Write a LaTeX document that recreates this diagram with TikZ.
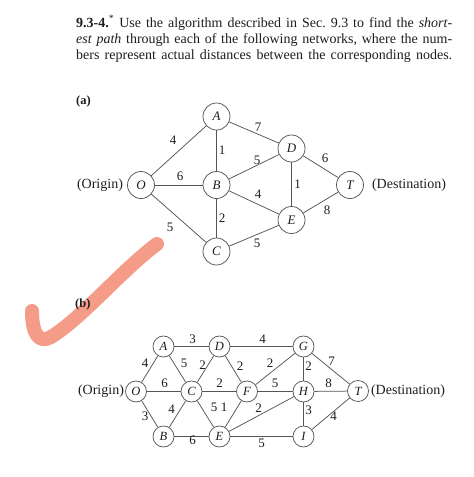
\documentclass[tikz,border=0pt]{standalone}
\usepackage{fontspec}
\setmainfont{Liberation Serif}
\usetikzlibrary{positioning}
\definecolor{ink}{HTML}{1E1E1E}
\definecolor{edgegray}{HTML}{555555}
\definecolor{marker}{HTML}{F49C87}
\frenchspacing

\begin{document}
\begin{tikzpicture}[x=1pt,y=-1pt,font=\fontsize{13}{15}\selectfont,text=ink,
  vtx/.style={circle,draw=edgegray,line width=0.75pt,inner sep=0pt,
    minimum size=27pt,font=\fontsize{13}{15}\selectfont\itshape},
  vtxs/.style={vtx,minimum size=21pt,font=\fontsize{12.5}{15}\selectfont\itshape},
  wt/.style={inner sep=0pt},
  link/.style={draw=edgegray,line width=0.75pt},
  side/.style={inner sep=0pt,font=\fontsize{14}{16}\selectfont},
  stmt/.style={anchor=base west,inner sep=0pt,font=\fontsize{14}{16}\selectfont}]
  \useasboundingbox[fill=white] (0,0) rectangle (474,477);

  % Hand-drawn tick, under the text.
  \draw[marker,line width=14pt,line cap=round,line join=round]
    (157,244) .. controls (122,270) and (82,318) .. (51,337)
    .. controls (39,344) and (32,334) .. (32,311);

  % Problem statement.
  \node[stmt] (line1) at (76,27)
    {\makebox[376pt][s]{\textbf{9.3-4.}\textsuperscript{*} Use the algorithm described in Sec. 9.3 to find the \textit{short-}}};
  \node[stmt] (line2) at (76,43)
    {\makebox[376pt][s]{\textit{est path} through each of the following networks, where the num-}};
  \node[stmt] (line3) at (76,59)
    {\makebox[376pt][s]{bers represent actual distances between the corresponding nodes.}};

  % Network (a).
  \node[anchor=base west,inner sep=0pt,font=\fontsize{12.5}{15}\selectfont\bfseries] (parta) at (76,104) {(a)};
  \node[vtx] (aO) at (141,185) {O};
  \node[vtx] (aA) at (216.5,116.5) {A};
  \node[vtx] (aB) at (216.5,185) {B};
  \node[vtx] (aC) at (216.5,251.5) {C};
  \node[vtx] (aD) at (291.5,148.5) {D};
  \node[vtx] (aE) at (291.5,220) {E};
  \node[vtx] (aT) at (350,185) {T};
  \node[side,left=4pt of aO] (aorig) {(Origin)};
  \node[side,right=8pt of aT] (adest) {(Destination)};

  \foreach \u/\v/\w/\px/\py in {aO/aA/4/173/140, aO/aB/6/180/176, aO/aC/5/170/227,
    aA/aB/1/222/150, aA/aD/7/258/127, aB/aD/5/257/160, aB/aE/4/258/194,
    aB/aC/2/222/218, aC/aE/5/257/243, aD/aE/1/297.5/184, aD/aT/6/325/158,
    aE/aT/8/327/210}{
    \draw[link] (\u) -- (\v);
    \node[wt] at (\px,\py) {\w};
  }

  % Network (b).
  \node[anchor=base west,inner sep=0pt,font=\fontsize{12.5}{15}\selectfont\bfseries] (partb) at (75,307) {(b)};
  \node[vtxs] (bO) at (136,391.5) {O};
  \node[vtxs] (bA) at (163.5,346.5) {A};
  \node[vtxs] (bB) at (163.5,436.5) {B};
  \node[vtxs] (bC) at (191.5,391.5) {C};
  \node[vtxs] (bD) at (219.5,346.5) {D};
  \node[vtxs] (bE) at (219.5,436.5) {E};
  \node[vtxs] (bF) at (247,391.5) {F};
  \node[vtxs] (bG) at (303.5,346.5) {G};
  \node[vtxs] (bH) at (303.5,391.5) {H};
  \node[vtxs] (bI) at (303.5,436.5) {I};
  \node[vtxs] (bT) at (358,391) {T};
  \node[side,left=1pt of bO] (borig) {(Origin)};
  \node[side,right=2pt of bT] (bdest) {(Destination)};

  \foreach \u/\v/\w/\px/\py in {bO/bA/4/145/363.5, bO/bC/6/164.5/383.5, bO/bB/3/145/416.5,
    bA/bD/3/192.5/339.5, bA/bC/5/184/363.5, bC/bD/2/202.5/365, bD/bF/2/240/366.5,
    bD/bG/4/262.5/339.5, bC/bF/2/219.5/383.5, bB/bC/4/171.5/409.5, bC/bE/5/214/407.5,
    bF/bE/1/224/407.5, bF/bG/2/270/363.5, bF/bH/5/275/383.5, bG/bH/2/308.5/366.5,
    bG/bT/7/331.5/361.5, bH/bT/8/328.5/383.5, bH/bE/2/258.5/408.5, bH/bI/3/308.5/410,
    bI/bT/4/333.5/416.5, bB/bE/6/192.5/440.5, bE/bI/5/261.5/443.5}{
    \draw[link] (\u) -- (\v);
    \node[wt] at (\px,\py) {\w};
  }
\end{tikzpicture}
\end{document}
